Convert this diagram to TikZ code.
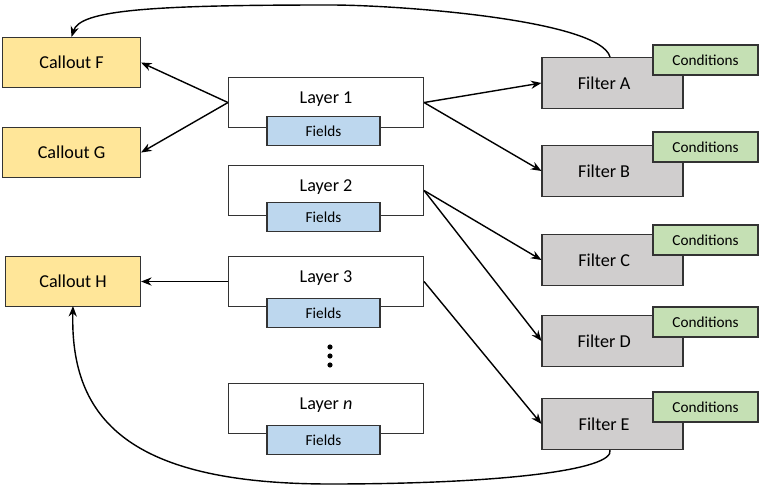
\documentclass[tikz,border=0pt]{standalone}
\usepackage{fontspec}
\setmainfont{Carlito}
\usetikzlibrary{arrows.meta}
\definecolor{yel}{HTML}{FFE699}
\definecolor{blu}{HTML}{BDD7EE}
\definecolor{gry}{HTML}{D0CECE}
\definecolor{grn}{HTML}{C5E0B4}
\begin{document}
\begin{tikzpicture}[x=0.03cm,y=-0.03cm,
  big/.style={font=\fontsize{15.5}{18}\selectfont},
  box/.style={draw=black!80,line width=0.9pt,minimum height=1.5cm,anchor=north west,inner sep=0},
  callout/.style={big,draw=black!80,line width=0.9pt,fill=yel,anchor=north west,minimum width=4.14cm,minimum height=1.5cm},
  fld/.style={draw=black!80,line width=0.9pt,fill=blu,minimum width=3.39cm,minimum height=0.87cm,font=\fontsize{13}{15}\selectfont},
  filt/.style={big,draw=black!80,line width=0.9pt,fill=gry,minimum width=4.23cm,minimum height=1.53cm},
  cond/.style={draw=black!80,line width=0.9pt,fill=grn,minimum width=3.15cm,minimum height=0.9cm,font=\fontsize{13}{15}\selectfont},
  arr/.style={-{Stealth[length=9pt,width=7pt]},line width=1.2pt}]
\useasboundingbox (0,0) rectangle (767,488);
\node[callout] (F) at (2,37) {Callout F};
\node[callout] (G) at (2,127) {Callout G};
\node[callout,minimum width=4.05cm] (H) at (5,256) {Callout H};
\foreach \n/\t/\y/\fy in {L1/Layer 1/77/131, L2/Layer 2/165/217, L3/Layer 3/256/313, Ln/Layer \textit{n}/383/440}{
  \node[box,minimum width=5.85cm] (\n) at (228,\y) {};
  \node[big] at ([yshift=-0.65cm]\n.north) {\t};
  \node[fld] (\n f) at (323.5,\fy) {Fields};
}
\foreach \yy in {347,356,365} \fill (330,\yy) circle (2.2pt);
\foreach \n/\y/\cy in {A/83/60,B/171/147,C/260/240,D/341/322,E/424/407}{
  \node[filt] (\n) at (612.5,\y) {\hspace{-0.5cm}Filter \n};
  \node[cond] (c\n) at (705.5,\cy) {Conditions};
}
\draw[arr] (L1.west) -- (F.east);
\draw[arr] (L1.west) -- (G.east);
\draw[arr] (L3.west) -- (H.east);
\draw[arr] (L1.east) -- (A.west);
\draw[arr] (L1.east) -- (B.west);
\draw[arr] (L2.east) -- (C.west);
\draw[arr] (L2.east) -- (D.west);
\draw[arr] (L3.east) -- (E.west);
\draw[arr] (610,57) .. controls (600,20) and (400,5) .. (330,5) .. controls (150,5) and (80,10) .. (F.north);
\draw[arr] (610,450) .. controls (615,470) and (500,484) .. (330,484) .. controls (130,484) and (70,420) .. (73,306);
\end{tikzpicture}
\end{document}
